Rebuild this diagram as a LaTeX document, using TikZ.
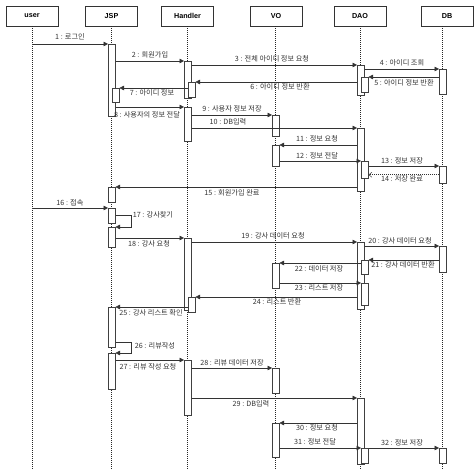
\documentclass[tikz,border=0pt]{standalone}
\usepackage{fontspec}
\setmainfont{Noto Sans CJK KR}
\newfontfamily\hdrfont{Liberation Sans}
\usetikzlibrary{arrows.meta}
\newcommand{\mkact}[4]{\node[actb, minimum height={#4pt-#3pt}] (#1) at (#2,#3) {};}
\begin{document}
\begin{tikzpicture}[x=1pt,y=-1pt,
  head/.style={draw=black!80, fill=white, line width=0.5pt, minimum width=52pt, minimum height=20pt, inner sep=0, font=\hdrfont\bfseries\fontsize{7.2}{8}\selectfont},
  life/.style={draw=black!85, line width=0.5pt, dash pattern=on 0.8pt off 1.2pt},
  actb/.style={draw=black!75, fill=white, line width=0.5pt, anchor=north west, minimum width=7pt, inner sep=0},
  msg/.style={draw=black!80, line width=0.5pt, -{Triangle[length=4.5pt,width=4.5pt]}},
  ret/.style={draw=black!80, line width=0.5pt, dash pattern=on 1pt off 1pt, -{Straight Barb[length=3pt,width=5pt]}},
  lbl/.style={font=\fontsize{7.2}{8}\selectfont, text=black!80, inner sep=0}]
\fill[white] (0,0) rectangle (474,470);
\useasboundingbox (0,0) rectangle (474,470);
% headers
\node[head] (user) at (32,16) {user};
\node[head] (jsp) at (111.5,16) {JSP};
\node[head] (handler) at (187.5,16) {Handler};
\node[head] (vo) at (276,16) {VO};
\node[head] (dao) at (360,16) {DAO};
\node[head] (db) at (447,16) {DB};
% lifeline ends
\coordinate (userE) at (32,470);
\coordinate (jspE) at (111.5,470);
\coordinate (handlerE) at (187.5,470);
\coordinate (voE) at (275.5,470);
\coordinate (daoE) at (360.5,470);
\coordinate (dbE) at (442.5,470);
\draw[life] (user.south) -- (userE);
\draw[life] (jspE |- jsp.south) -- (jspE);
\draw[life] (handlerE |- handler.south) -- (handlerE);
\draw[life] (voE |- vo.south) -- (voE);
\draw[life] (daoE |- dao.south) -- (daoE);
\draw[life] (dbE |- db.south) -- (dbE);
% activations: JSP
\mkact{j1}{108}{44}{116}
\mkact{j1n}{112}{88}{102}
\mkact{j2}{108}{187}{202}
\mkact{j3}{108}{208}{223}
\mkact{j4}{108}{227}{247}
\mkact{j5}{108}{307}{347}
\mkact{j6}{108}{353}{389}
% Handler
\mkact{h1}{184}{61}{98}
\mkact{h1n}{188}{82}{97}
\mkact{h2}{184}{107}{141}
\mkact{h3}{184}{238}{310}
\mkact{h3n}{188}{297}{312}
\mkact{h4}{184}{360}{415}
% VO
\mkact{v1}{272}{115}{136}
\mkact{v2}{272}{145}{166}
\mkact{v3}{272}{263}{288}
\mkact{v4}{272}{368}{393}
\mkact{v5}{272}{423}{457}
% DAO
\mkact{d1}{357}{65}{95}
\mkact{d1n}{361}{77}{92}
\mkact{d2}{357}{128}{191}
\mkact{d2n}{361}{161}{178}
\mkact{d3}{357}{242}{309}
\mkact{d3n}{361}{260}{274}
\mkact{d3m}{361}{283}{305}
\mkact{d4}{357}{398}{464}
\mkact{d4n}{361}{448}{463}
% DB
\mkact{b1}{439}{69}{94}
\mkact{b2}{439}{166}{183}
\mkact{b3}{439}{246}{272}
\mkact{b4}{439}{448}{463}
% messages
\draw[msg] (user |- j1.north) -- (j1.north west);
\draw[msg] (j1.east |- h1.north) -- (h1.north west);
\draw[msg] (h1.east |- d1.north) -- (d1.north west);
\draw[msg] (d1.east |- b1.north) -- (b1.north west);
\draw[msg] (b1.west |- d1n.north) -- (d1n.north east);
\draw[msg] (d1.west |- h1n.north) -- (h1n.north east);
\draw[msg] (h1n.west |- j1n.north) -- (j1n.north east);
\draw[msg] (j1.east |- h2.north) -- (h2.north west);
\draw[msg] (h2.east |- v1.north) -- (v1.north west);
\draw[msg] (h2.east |- d2.north) -- (d2.north west);
\draw[msg] (d2.west |- v2.north) -- (v2.north east);
\draw[msg] (v2.east |- d2n.north) -- (d2n.north west);
\draw[msg] (d2n.east |- b2.north) -- (b2.north west);
\draw[ret] (b2.west) -- (d2n.east |- b2.west);
\draw[msg] (d2.west |- j2.north) -- (j2.north east);
\draw[msg] (user |- j3.north) -- (j3.north west);
\draw[msg] (j3.east) -- ++(16,0) |- (j4.north east);
\draw[msg] (j4.east |- h3.north) -- (h3.north west);
\draw[msg] (h3.east |- d3.north) -- (d3.north west);
\draw[msg] (d3.east |- b3.north) -- (b3.north west);
\draw[msg] (b3.west |- d3n.north) -- (d3n.north east);
\draw[msg] (d3n.west |- v3.north) -- (v3.north east);
\draw[msg] (v3.east |- d3m.north) -- (d3m.north west);
\draw[msg] (d3.west |- h3n.north) -- (h3n.north east);
\draw[msg] (h3n.west |- j5.north) -- (j5.north east);
\draw[msg] ([yshift=5pt]j5.south east) -- ++(16,0) |- (j6.north east);
\draw[msg] (j6.east |- h4.north) -- (h4.north west);
\draw[msg] (h4.east |- v4.north) -- (v4.north west);
\draw[msg] (h4.east |- d4.north) -- (d4.north west);
\draw[msg] (d4.west |- v5.north) -- (v5.north east);
\draw[msg] (v5.east |- d4n.north) -- (d4n.north west);
\draw[msg] (d4n.east |- b4.north) -- (b4.north west);
% labels
\node[lbl] (l1) at (70,37) {1 : 로그인};
\node[lbl] (l2) at (150,55) {2 : 회원가입};
\node[lbl] (l3) at (272,59) {3 : 전체 아이디 정보 요청};
\node[lbl] (l4) at (402,63) {4 : 아이디 조회};
\node[lbl] (l5) at (404,83) {5 : 아이디 정보 반환};
\node[lbl] (l6) at (280,87) {6 : 아이디 정보 반환};
\node[lbl] (l7) at (152,93) {7 : 아이디 정보};
\node[lbl] (l8) at (147,115) {8 : 사용자의 정보 전달};
\node[lbl] (l9) at (232,109) {9 : 사용자 정보 저장};
\node[lbl] (l10) at (228,122) {10 : DB입력};
\node[lbl] (l11) at (317,139) {11 : 정보 요청};
\node[lbl] (l12) at (317,156) {12 : 정보 전달};
\node[lbl] (l13) at (402,161) {13 : 정보 저장};
\node[lbl] (l14) at (402,179) {14 : 저장 완료};
\node[lbl] (l15) at (232,193) {15 : 회원가입 완료};
\node[lbl] (l16) at (70,203) {16 : 접속};
\node[lbl] (l17) at (153,215) {17 : 강사찾기};
\node[lbl] (l18) at (149,244) {18 : 강사 요청};
\node[lbl] (l19) at (273,236) {19 : 강사 데이터 요청};
\node[lbl] (l20) at (400,241) {20 : 강사 데이터 요청};
\node[lbl] (l21) at (403,265) {21 : 강사 데이터 반환};
\node[lbl] (l22) at (319,269) {22 : 데이터 저장};
\node[lbl] (l23) at (319,288) {23 : 리스트 저장};
\node[lbl] (l24) at (277,302) {24 : 리스트 반환};
\node[lbl] (l25) at (151,313) {25 : 강사 리스트 확인};
\node[lbl] (l26) at (155,346) {26 : 리뷰작성};
\node[lbl] (l27) at (148,367) {27 : 리뷰 작성 요청};
\node[lbl] (l28) at (232,363) {28 : 리뷰 데이터 저장};
\node[lbl] (l29) at (251,404) {29 : DB입력};
\node[lbl] (l30) at (317,428) {30 : 정보 요청};
\node[lbl] (l31) at (315,442) {31 : 정보 전달};
\node[lbl] (l32) at (402,443) {32 : 정보 저장};
\end{tikzpicture}
\end{document}
